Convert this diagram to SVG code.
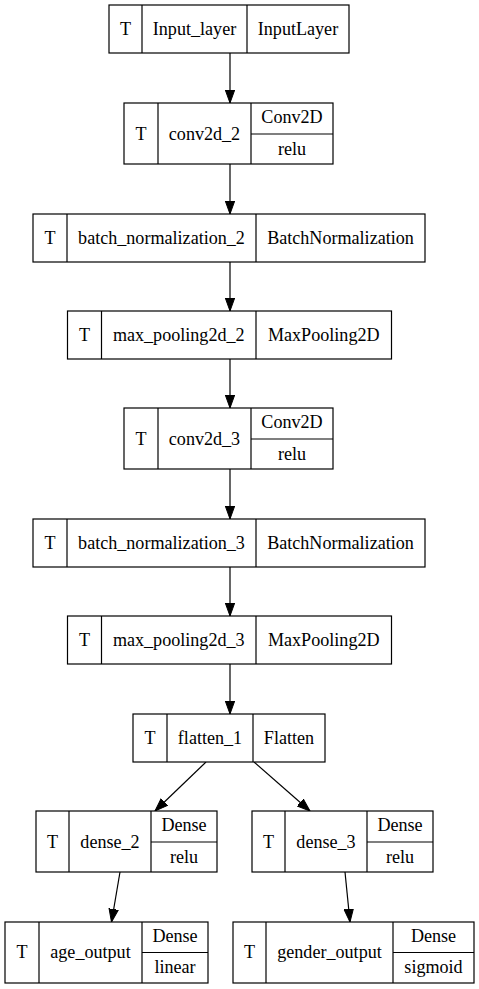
<svg xmlns="http://www.w3.org/2000/svg" width="479" height="989" viewBox="0 0 479 989">
<style>
.box{fill:#fff;stroke:#000;stroke-width:1.2}
.ln{fill:none;stroke:#000;stroke-width:1.2}
.t{font-size:18.1px;fill:#000;text-anchor:middle;font-family:'Liberation Serif','Times New Roman',serif}
.edge{fill:none;stroke:#000;stroke-width:1.2;marker-end:url(#ah)}
</style>
<defs>
<marker id="ah" markerUnits="userSpaceOnUse" markerWidth="14" markerHeight="12" viewBox="0 -6 14 12" refX="13" refY="0" orient="auto">
<path d="M0,-4.7 L13,0 L0,4.7 Z" fill="#000" stroke="#000" stroke-width="1"/>
</marker>
</defs>
<rect width="479" height="989" fill="#fff"/>
<g id="connectors">
<line class="edge" x1="230" y1="53" x2="230" y2="103"/>
<line class="edge" x1="230" y1="164" x2="230" y2="214"/>
<line class="edge" x1="230" y1="262" x2="230" y2="311"/>
<line class="edge" x1="230" y1="359" x2="230" y2="408"/>
<line class="edge" x1="230" y1="469" x2="230" y2="519"/>
<line class="edge" x1="230" y1="567" x2="230" y2="616"/>
<line class="edge" x1="230" y1="664" x2="230" y2="714"/>
<line class="edge" x1="206" y1="762" x2="155" y2="811"/>
<line class="edge" x1="254" y1="762" x2="310" y2="811"/>
<line class="edge" x1="120" y1="872" x2="111.5" y2="922"/>
<line class="edge" x1="345" y1="872" x2="350" y2="922"/>
</g>
<g class="t">
<g id="node-input_layer">
<rect class="box" x="109" y="5" width="240" height="48"/>
<line class="ln" x1="142" y1="5" x2="142" y2="53"/>
<line class="ln" x1="247" y1="5" x2="247" y2="53"/>
<text x="125.5" y="35">T</text>
<text x="194.5" y="35">Input_layer</text>
<text x="298" y="35">InputLayer</text>
</g>
<g id="node-conv2d_2">
<rect class="box" x="124" y="103" width="209" height="61"/>
<line class="ln" x1="158" y1="103" x2="158" y2="164"/>
<line class="ln" x1="251" y1="103" x2="251" y2="164"/>
<line class="ln" x1="251" y1="134" x2="333" y2="134"/>
<text x="141" y="139.5">T</text>
<text x="204.5" y="139.5">conv2d_2</text>
<text x="292" y="123">Conv2D</text>
<text x="292" y="154.5">relu</text>
</g>
<g id="node-batch_normalization_2">
<rect class="box" x="33" y="214" width="392" height="48"/>
<line class="ln" x1="67" y1="214" x2="67" y2="262"/>
<line class="ln" x1="256" y1="214" x2="256" y2="262"/>
<text x="50" y="244">T</text>
<text x="161.5" y="244">batch_normalization_2</text>
<text x="340.5" y="244">BatchNormalization</text>
</g>
<g id="node-max_pooling2d_2">
<rect class="box" x="67.5" y="311" width="324" height="48"/>
<line class="ln" x1="101.5" y1="311" x2="101.5" y2="359"/>
<line class="ln" x1="256" y1="311" x2="256" y2="359"/>
<text x="84.5" y="341">T</text>
<text x="178.75" y="341">max_pooling2d_2</text>
<text x="323.75" y="341">MaxPooling2D</text>
</g>
<g id="node-conv2d_3">
<rect class="box" x="124" y="408" width="209" height="61"/>
<line class="ln" x1="158" y1="408" x2="158" y2="469"/>
<line class="ln" x1="251" y1="408" x2="251" y2="469"/>
<line class="ln" x1="251" y1="439" x2="333" y2="439"/>
<text x="141" y="444.5">T</text>
<text x="204.5" y="444.5">conv2d_3</text>
<text x="292" y="428">Conv2D</text>
<text x="292" y="459.5">relu</text>
</g>
<g id="node-batch_normalization_3">
<rect class="box" x="33" y="519" width="392" height="48"/>
<line class="ln" x1="67" y1="519" x2="67" y2="567"/>
<line class="ln" x1="256" y1="519" x2="256" y2="567"/>
<text x="50" y="549">T</text>
<text x="161.5" y="549">batch_normalization_3</text>
<text x="340.5" y="549">BatchNormalization</text>
</g>
<g id="node-max_pooling2d_3">
<rect class="box" x="67.5" y="616" width="324" height="48"/>
<line class="ln" x1="101.5" y1="616" x2="101.5" y2="664"/>
<line class="ln" x1="256" y1="616" x2="256" y2="664"/>
<text x="84.5" y="646">T</text>
<text x="178.75" y="646">max_pooling2d_3</text>
<text x="323.75" y="646">MaxPooling2D</text>
</g>
<g id="node-flatten_1">
<rect class="box" x="133" y="714" width="192" height="48"/>
<line class="ln" x1="167" y1="714" x2="167" y2="762"/>
<line class="ln" x1="253" y1="714" x2="253" y2="762"/>
<text x="150" y="744">T</text>
<text x="210" y="744">flatten_1</text>
<text x="289" y="744">Flatten</text>
</g>
<g id="node-dense_2">
<rect class="box" x="36" y="811" width="181" height="61"/>
<line class="ln" x1="69" y1="811" x2="69" y2="872"/>
<line class="ln" x1="151" y1="811" x2="151" y2="872"/>
<line class="ln" x1="151" y1="842" x2="217" y2="842"/>
<text x="52.5" y="847.5">T</text>
<text x="110" y="847.5">dense_2</text>
<text x="184" y="831">Dense</text>
<text x="184" y="862.5">relu</text>
</g>
<g id="node-dense_3">
<rect class="box" x="252" y="811" width="181" height="61"/>
<line class="ln" x1="285" y1="811" x2="285" y2="872"/>
<line class="ln" x1="367" y1="811" x2="367" y2="872"/>
<line class="ln" x1="367" y1="842" x2="433" y2="842"/>
<text x="268.5" y="847.5">T</text>
<text x="326" y="847.5">dense_3</text>
<text x="400" y="831">Dense</text>
<text x="400" y="862.5">relu</text>
</g>
<g id="node-age_output">
<rect class="box" x="5" y="922" width="203" height="61"/>
<line class="ln" x1="39" y1="922" x2="39" y2="983"/>
<line class="ln" x1="142" y1="922" x2="142" y2="983"/>
<line class="ln" x1="142" y1="952.5" x2="208" y2="952.5"/>
<text x="22" y="958">T</text>
<text x="90.5" y="958">age_output</text>
<text x="175" y="942">Dense</text>
<text x="175" y="973">linear</text>
</g>
<g id="node-gender_output">
<rect class="box" x="233" y="922" width="241" height="61"/>
<line class="ln" x1="266" y1="922" x2="266" y2="983"/>
<line class="ln" x1="393" y1="922" x2="393" y2="983"/>
<line class="ln" x1="393" y1="952.5" x2="474" y2="952.5"/>
<text x="249.5" y="958">T</text>
<text x="329.5" y="958">gender_output</text>
<text x="433.5" y="942">Dense</text>
<text x="433.5" y="973">sigmoid</text>
</g>
</g>
</svg>
